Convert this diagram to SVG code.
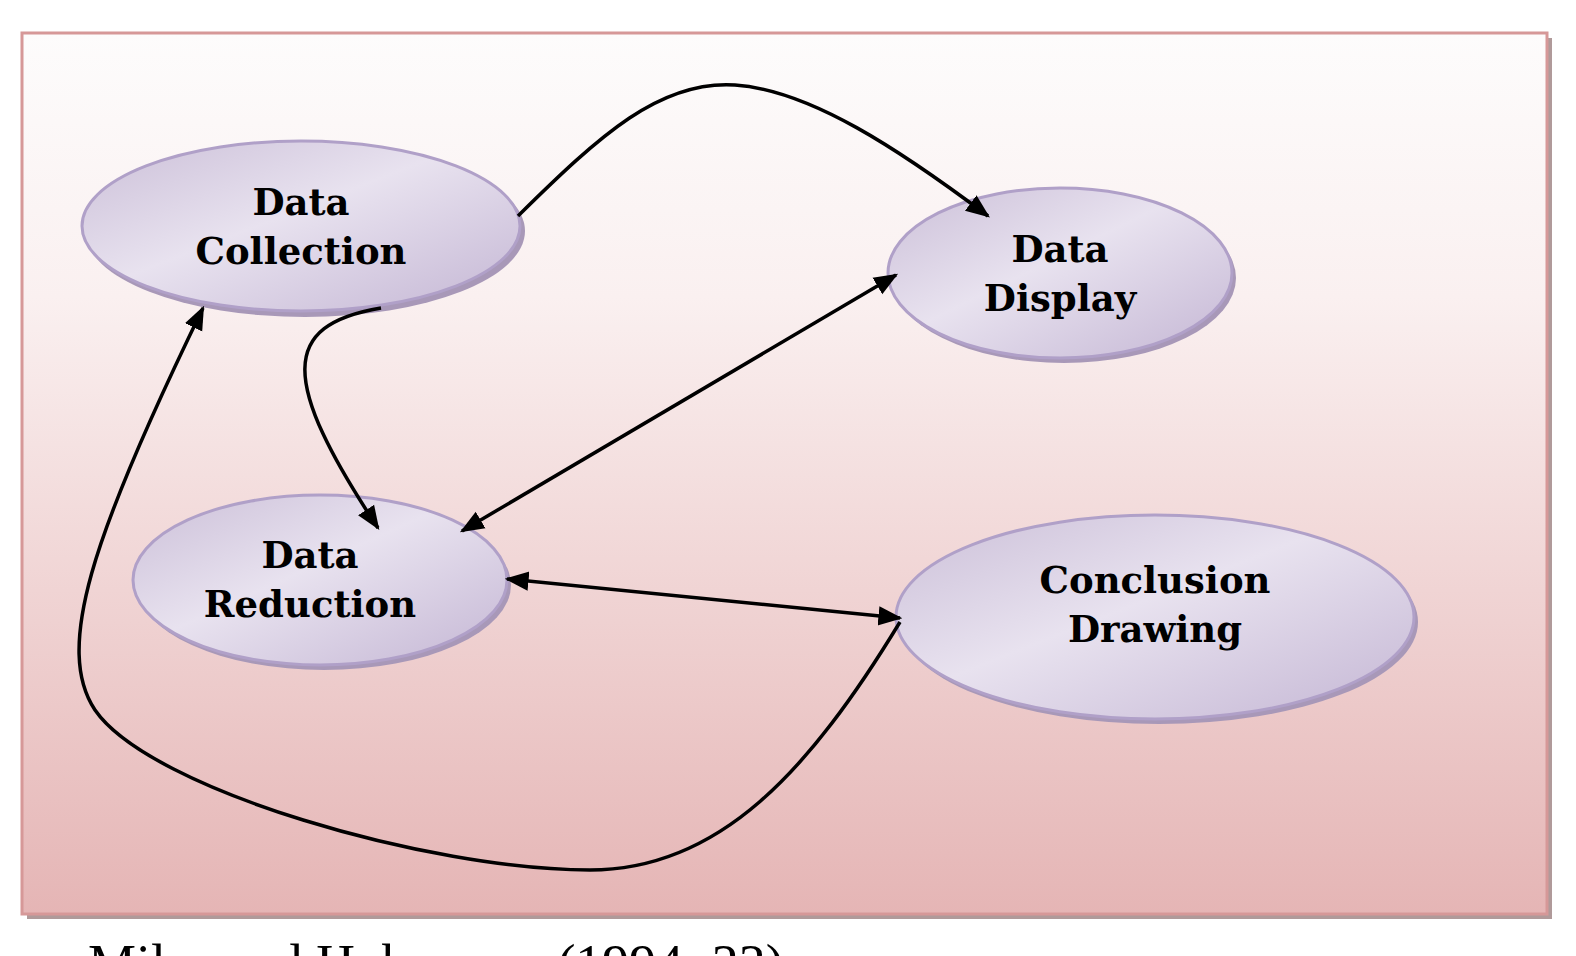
<svg xmlns="http://www.w3.org/2000/svg" width="1576" height="956" viewBox="0 0 1576 956">
<defs>
<linearGradient id="bg" x1="0" y1="0" x2="0" y2="1">
<stop offset="0" stop-color="#fdfcfc"/><stop offset="0.3" stop-color="#faf0f0"/><stop offset="1" stop-color="#e5b5b5"/>
</linearGradient>
<linearGradient id="el" x1="0" y1="0" x2="1" y2="1">
<stop offset="0" stop-color="#cbbfd8"/><stop offset="0.45" stop-color="#e8e2ef"/><stop offset="1" stop-color="#c4b6d4"/>
</linearGradient>
<marker id="a" viewBox="0 0 10 10" refX="9" refY="5" markerWidth="24" markerHeight="24" markerUnits="userSpaceOnUse" orient="auto-start-reverse">
<path d="M0,1 L10,5 L0,9 z" fill="#000"/>
</marker>
<style>
.node ellipse.s{fill:#a898b8}
.node ellipse.m{fill:url(#el);stroke:#b0a0c8;stroke-width:3}
.node text{font-family:"DejaVu Serif","Liberation Serif",serif;font-weight:bold;font-size:37px;text-anchor:middle;fill:#000}
.c{fill:none;stroke:#000;stroke-width:3.5}
</style>
</defs>
<rect width="1576" height="956" fill="#fff"/>
<rect x="27" y="38" width="1525" height="881" fill="#b09a9a"/>
<rect x="22" y="33" width="1525" height="881" fill="url(#bg)" stroke="#d69898" stroke-width="3"/>
<g id="n1" class="node"><ellipse class="s" cx="305" cy="231" rx="220" ry="86"/><ellipse class="m" cx="301" cy="226" rx="219" ry="85"/><text x="301" y="215">Data</text><text x="301" y="264">Collection</text></g>
<g id="n2" class="node"><ellipse class="s" cx="1064" cy="278" rx="172" ry="85"/><ellipse class="m" cx="1060" cy="273" rx="172" ry="85"/><text x="1060" y="262">Data</text><text x="1060" y="311">Display</text></g>
<g id="n3" class="node"><ellipse class="s" cx="324" cy="585" rx="187" ry="85"/><ellipse class="m" cx="320" cy="580" rx="187" ry="85"/><text x="310" y="568">Data</text><text x="310" y="617">Reduction</text></g>
<g id="n4" class="node"><ellipse class="s" cx="1159" cy="622" rx="259" ry="102"/><ellipse class="m" cx="1155" cy="617" rx="259" ry="102"/><text x="1155" y="593">Conclusion</text><text x="1155" y="642">Drawing</text></g>
<g id="connectors">
<path class="c" d="M518,216 C600,135 660,80 735,85 C810,90 900,150 988,216" marker-end="url(#a)"/>
<path class="c" d="M381,308 C280,325 280,380 378,528" marker-end="url(#a)"/>
<path class="c" d="M462,531 L896,275" marker-start="url(#a)" marker-end="url(#a)"/>
<path class="c" d="M507,579 L900,618" marker-start="url(#a)" marker-end="url(#a)"/>
<path class="c" d="M900,622 C810,770 720,870 590,870 C430,870 150,790 95,710 C55,650 90,540 203,308" marker-end="url(#a)"/>
</g>
<text x="88" y="982" font-family="Liberation Serif, serif" font-size="54" fill="#000">Miles and Huberman (1994: 23)</text>
</svg>
